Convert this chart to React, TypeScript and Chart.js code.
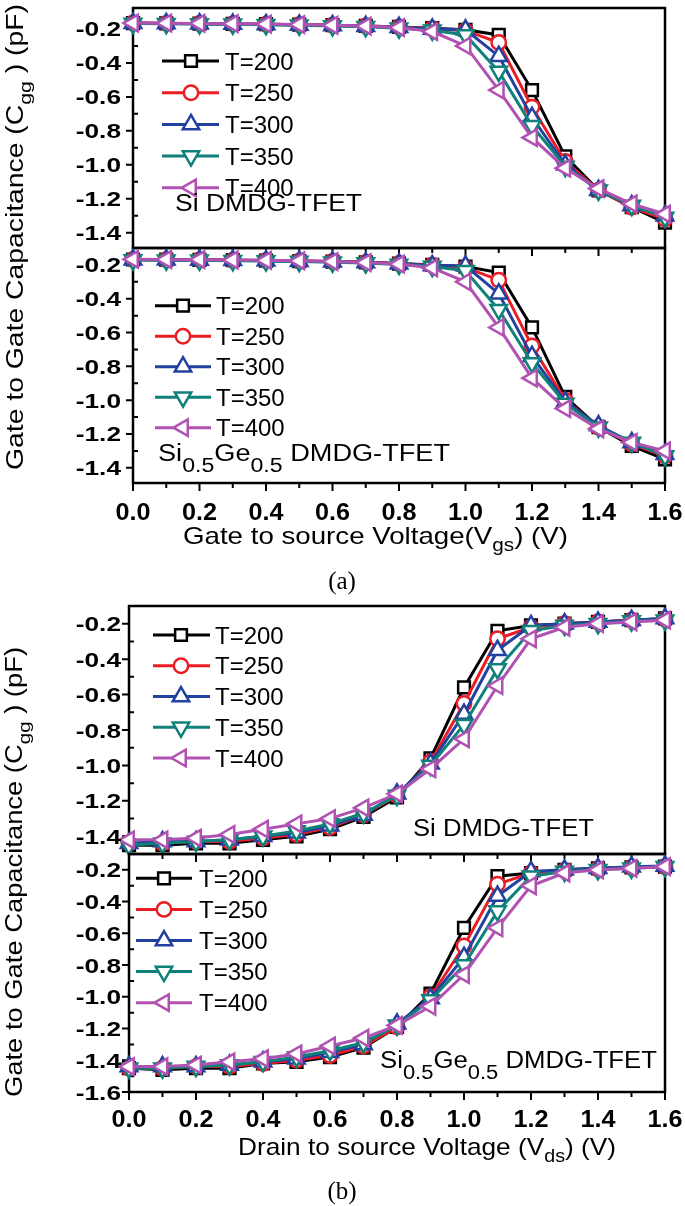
import React, { useEffect, useRef } from 'react';
import { Chart, registerables } from 'chart.js';
import { drawPoint } from 'chart.js/helpers';

Chart.register(...registerables);

const W = 685;
const H = 1206;

// Bias sweep (V), shared by every panel
const biasV = [0, 0.1, 0.2, 0.3, 0.4, 0.5, 0.6, 0.7, 0.8, 0.9, 1.0, 1.1, 1.2, 1.3, 1.4, 1.5, 1.6];
const tempLabels = ['T=200', 'T=250', 'T=300', 'T=350', 'T=400'];

// (a) Cgg (pF) vs Vgs — Si DMDG-TFET
const vgsSi200 = [-0.165, -0.167, -0.168, -0.170, -0.172, -0.175, -0.178, -0.182, -0.188, -0.195, -0.205, -0.235, -0.56, -0.95, -1.15, -1.25, -1.34];
const vgsSi250 = [-0.165, -0.167, -0.168, -0.170, -0.172, -0.175, -0.178, -0.182, -0.188, -0.198, -0.210, -0.28, -0.66, -0.98, -1.15, -1.25, -1.32];
const vgsSi300 = [-0.166, -0.167, -0.169, -0.171, -0.173, -0.176, -0.179, -0.184, -0.190, -0.200, -0.205, -0.36, -0.72, -1.00, -1.15, -1.24, -1.30];
const vgsSi350 = [-0.168, -0.169, -0.170, -0.172, -0.175, -0.178, -0.182, -0.187, -0.195, -0.208, -0.235, -0.45, -0.77, -1.01, -1.15, -1.24, -1.31];
const vgsSi400 = [-0.165, -0.166, -0.167, -0.169, -0.171, -0.174, -0.178, -0.183, -0.192, -0.215, -0.30, -0.56, -0.84, -1.02, -1.14, -1.23, -1.29];

// (a) Cgg (pF) vs Vgs — Si0.5Ge0.5 DMDG-TFET
const vgsSiGe200 = [-0.168, -0.169, -0.170, -0.172, -0.174, -0.177, -0.180, -0.185, -0.192, -0.200, -0.210, -0.245, -0.57, -0.98, -1.16, -1.27, -1.35];
const vgsSiGe250 = [-0.168, -0.169, -0.170, -0.172, -0.174, -0.177, -0.180, -0.185, -0.192, -0.202, -0.215, -0.29, -0.68, -1.00, -1.16, -1.26, -1.33];
const vgsSiGe300 = [-0.169, -0.170, -0.171, -0.173, -0.175, -0.178, -0.181, -0.186, -0.193, -0.204, -0.205, -0.37, -0.74, -1.01, -1.15, -1.25, -1.32];
const vgsSiGe350 = [-0.171, -0.172, -0.173, -0.175, -0.177, -0.180, -0.184, -0.189, -0.197, -0.210, -0.235, -0.465, -0.78, -1.02, -1.16, -1.25, -1.33];
const vgsSiGe400 = [-0.167, -0.168, -0.169, -0.171, -0.173, -0.176, -0.180, -0.186, -0.195, -0.218, -0.30, -0.57, -0.87, -1.05, -1.17, -1.25, -1.30];

// (b) Cgg (pF) vs Vds — Si DMDG-TFET
const vdsSi200 = [-1.45, -1.45, -1.44, -1.44, -1.42, -1.40, -1.36, -1.29, -1.18, -0.96, -0.56, -0.24, -0.21, -0.20, -0.19, -0.18, -0.17];
const vdsSi250 = [-1.44, -1.44, -1.43, -1.43, -1.41, -1.39, -1.35, -1.28, -1.17, -0.98, -0.65, -0.285, -0.22, -0.20, -0.19, -0.18, -0.175];
const vdsSi300 = [-1.44, -1.43, -1.43, -1.42, -1.40, -1.38, -1.34, -1.28, -1.16, -0.99, -0.71, -0.35, -0.21, -0.20, -0.19, -0.18, -0.17];
const vdsSi350 = [-1.45, -1.44, -1.43, -1.42, -1.40, -1.37, -1.33, -1.27, -1.17, -1.00, -0.77, -0.455, -0.24, -0.21, -0.20, -0.185, -0.18];
const vdsSi400 = [-1.42, -1.42, -1.41, -1.39, -1.36, -1.33, -1.30, -1.24, -1.16, -1.02, -0.85, -0.55, -0.285, -0.22, -0.20, -0.19, -0.18];

// (b) Cgg (pF) vs Vds — Si0.5Ge0.5 DMDG-TFET
const vdsSiGe200 = [-1.45, -1.46, -1.45, -1.45, -1.42, -1.41, -1.38, -1.32, -1.19, -0.98, -0.565, -0.24, -0.22, -0.20, -0.19, -0.185, -0.18];
const vdsSiGe250 = [-1.45, -1.45, -1.44, -1.44, -1.42, -1.40, -1.37, -1.31, -1.19, -1.00, -0.68, -0.29, -0.22, -0.205, -0.195, -0.185, -0.18];
const vdsSiGe300 = [-1.44, -1.44, -1.44, -1.43, -1.41, -1.39, -1.35, -1.30, -1.17, -1.01, -0.75, -0.365, -0.21, -0.20, -0.19, -0.18, -0.175];
const vdsSiGe350 = [-1.45, -1.45, -1.44, -1.43, -1.41, -1.38, -1.34, -1.29, -1.18, -1.02, -0.80, -0.46, -0.24, -0.21, -0.20, -0.19, -0.18];
const vdsSiGe400 = [-1.44, -1.44, -1.43, -1.41, -1.39, -1.36, -1.31, -1.26, -1.18, -1.06, -0.86, -0.565, -0.30, -0.22, -0.20, -0.19, -0.18];

// Axis tick labels
const xTickVals = [0, 0.2, 0.4, 0.6, 0.8, 1.0, 1.2, 1.4, 1.6];
const yTickVals = [-0.2, -0.4, -0.6, -0.8, -1.0, -1.2, -1.4];
const yTickValsDeep = [-0.2, -0.4, -0.6, -0.8, -1.0, -1.2, -1.4, -1.6];

const SANS = '"Liberation Sans", Arial, Helvetica, sans-serif';
const SERIF = '"Liberation Serif", "Times New Roman", serif';

const seriesStyle = [
  { color: '#000000', pointStyle: 'rect', rotation: 0, radius: 8.3 },
  { color: '#ec1c24', pointStyle: 'circle', rotation: 0, radius: 7.2 },
  { color: '#2341a0', pointStyle: 'triangle', rotation: 0, radius: 9.5 },
  { color: '#10807a', pointStyle: 'triangle', rotation: 180, radius: 9.5 },
  { color: '#b152b3', pointStyle: 'triangle', rotation: 270, radius: 9.5 },
];

type Run = { text: string; sub?: boolean };

interface TextOpts {
  size: number;
  family: string;
  bold?: boolean;
  align: 'left' | 'center' | 'right';
  width?: number;
  sx?: number;
  rotate?: boolean;
  subScale?: number;
  subShift?: number;
}

// Draws a run of text (with optional subscripts); y is the middle of the capitals.
function drawRuns(ctx: CanvasRenderingContext2D, runs: Run[], x: number, y: number, o: TextOpts) {
  const subScale = o.subScale ?? 0.75;
  const font = (sub?: boolean) =>
    `${o.bold ? 'bold ' : ''}${sub ? (o.size * subScale).toFixed(1) : o.size}px ${o.family}`;
  let natural = 0;
  const widths = runs.map((r) => {
    ctx.font = font(r.sub);
    const w = ctx.measureText(r.text).width;
    natural += w;
    return w;
  });
  const sx = o.width ? o.width / natural : o.sx ?? 1;
  ctx.save();
  ctx.translate(x, y);
  if (o.rotate) ctx.rotate(-Math.PI / 2);
  ctx.scale(sx, 1);
  let cx = o.align === 'left' ? 0 : o.align === 'center' ? -natural / 2 : -natural;
  ctx.textAlign = 'left';
  ctx.textBaseline = 'alphabetic';
  ctx.fillStyle = '#000';
  const base = o.size * 0.358;
  runs.forEach((r, i) => {
    ctx.font = font(r.sub);
    ctx.fillText(r.text, cx, base + (r.sub ? o.size * (o.subShift ?? 0.32) : 0));
    cx += widths[i];
  });
  ctx.restore();
}

interface Panel {
  key: string;
  series: number[][];
  area: { l: number; r: number; t: number; b: number };
  yMin: number;
  yMax: number;
  yTicks: number[];
  legend: { x0: number; x1: number; mx: number; tx: number; y0: number; dy: number };
  tag: { runs: Run[]; x: number; y: number; width: number };
  xAxis?: { labelY: number; title: Run[]; titleX: number; titleY: number; titleW: number };
  yTitle?: { x: number; y: number; len: number };
  caption?: { text: string; x: number; y: number };
}

const siTag: Run[] = [{ text: 'Si DMDG-TFET' }];
const siGeTag: Run[] = [
  { text: 'Si' },
  { text: '0.5', sub: true },
  { text: 'Ge' },
  { text: '0.5', sub: true },
  { text: ' DMDG-TFET' },
];
const yTitleRuns: Run[] = [
  { text: 'Gate to Gate Capacitance (C' },
  { text: 'gg', sub: true },
  { text: ' ) (pF)' },
];

const panels: Panel[] = [
  {
    key: 'a-si',
    series: [vgsSi200, vgsSi250, vgsSi300, vgsSi350, vgsSi400],
    area: { l: 133, r: 665, t: 8, b: 248 },
    yMin: -1.49,
    yMax: -0.1,
    yTicks: yTickVals,
    legend: { x0: 162, x1: 219, mx: 191, tx: 225, y0: 61, dy: 31.7 },
    tag: { runs: siTag, x: 175, y: 203, width: 187 },
  },
  {
    key: 'a-sige',
    series: [vgsSiGe200, vgsSiGe250, vgsSiGe300, vgsSiGe350, vgsSiGe400],
    area: { l: 133, r: 665, t: 248, b: 483 },
    yMin: -1.49,
    yMax: -0.1,
    yTicks: yTickVals,
    legend: { x0: 155, x1: 211, mx: 183, tx: 216, y0: 305.7, dy: 30.5 },
    tag: { runs: siGeTag, x: 158, y: 453, width: 292 },
    xAxis: {
      labelY: 511.5,
      title: [{ text: 'Gate to source Voltage(V' }, { text: 'gs', sub: true }, { text: ') (V)' }],
      titleX: 375.5,
      titleY: 535,
      titleW: 385,
    },
    yTitle: { x: 15, y: 237, len: 466 },
    caption: { text: '(a)', x: 342, y: 580 },
  },
  {
    key: 'b-si',
    series: [vdsSi200, vdsSi250, vdsSi300, vdsSi350, vdsSi400],
    area: { l: 129, r: 665, t: 606, b: 854 },
    yMin: -1.5,
    yMax: -0.1,
    yTicks: yTickVals,
    legend: { x0: 153, x1: 210, mx: 181, tx: 215, y0: 635, dy: 30.75 },
    tag: { runs: siTag, x: 413, y: 828, width: 181 },
  },
  {
    key: 'b-sige',
    series: [vdsSiGe200, vdsSiGe250, vdsSiGe300, vdsSiGe350, vdsSiGe400],
    area: { l: 129, r: 665, t: 854, b: 1092 },
    yMin: -1.6,
    yMax: -0.1,
    yTicks: yTickValsDeep,
    legend: { x0: 136, x1: 192, mx: 164, tx: 199, y0: 878.3, dy: 31.1 },
    tag: { runs: siGeTag, x: 380, y: 1060, width: 277 },
    xAxis: {
      labelY: 1118,
      title: [{ text: 'Drain to source Voltage (V' }, { text: 'ds', sub: true }, { text: ') (V)' }],
      titleX: 427,
      titleY: 1146,
      titleW: 378,
    },
    yTitle: { x: 14, y: 872, len: 450 },
    caption: { text: '(b)', x: 342, y: 1190 },
  },
];

// Frame, ticks, legend and text for one panel
function decorPlugin(p: Panel) {
  return {
    id: 'panelDecor',
    beforeDatasetsDraw(chart: any) {
      const ctx: CanvasRenderingContext2D = chart.ctx;
      const xs = chart.scales.x;
      const ys = chart.scales.y;
      const { l, r, t, b } = p.area;
      ctx.save();
      ctx.strokeStyle = '#000';
      ctx.lineWidth = 2.5;
      ctx.strokeRect(l, t, r - l, b - t);
      ctx.lineWidth = 2;
      ctx.beginPath();
      for (let i = 0; i <= 16; i++) {
        const x = xs.getPixelForValue(i / 10);
        ctx.moveTo(x, b);
        ctx.lineTo(x, b + (i % 2 === 0 ? 8 : 5));
      }
      p.yTicks.forEach((v) => {
        const y = ys.getPixelForValue(v);
        ctx.moveTo(l - 7, y);
        ctx.lineTo(l, y);
        const m = v - 0.1;
        if (m > p.yMin + 0.01) {
          const ym = ys.getPixelForValue(m);
          ctx.moveTo(l, ym);
          ctx.lineTo(l + 5, ym);
        }
      });
      ctx.stroke();
      ctx.restore();
    },
    afterDatasetsDraw(chart: any) {
      const ctx: CanvasRenderingContext2D = chart.ctx;
      const xs = chart.scales.x;
      const ys = chart.scales.y;
      ctx.save();

      // legend: line with marker through it
      const lg = p.legend;
      seriesStyle.forEach((s, i) => {
        const y = lg.y0 + i * lg.dy;
        ctx.strokeStyle = s.color;
        ctx.lineWidth = 3;
        ctx.beginPath();
        ctx.moveTo(lg.x0, y);
        ctx.lineTo(lg.x1, y);
        ctx.stroke();
        ctx.fillStyle = '#ffffff';
        ctx.lineWidth = 2.5;
        drawPoint(ctx, { pointStyle: s.pointStyle as any, rotation: s.rotation, radius: s.radius, borderWidth: 2.5 }, lg.mx, y);
        drawRuns(ctx, [{ text: tempLabels[i] }], lg.tx, y, { size: 24, family: SANS, align: 'left' });
      });

      // device tag
      drawRuns(ctx, p.tag.runs, p.tag.x, p.tag.y, {
        size: 23,
        family: SANS,
        align: 'left',
        width: p.tag.width,
        subScale: 0.85,
        subShift: 0.45,
      });

      // y tick labels
      p.yTicks.forEach((v) => {
        drawRuns(ctx, [{ text: v.toFixed(1) }], 121, ys.getPixelForValue(v), {
          size: 21,
          family: SANS,
          bold: true,
          align: 'right',
          sx: 1.25,
        });
      });

      if (p.xAxis) {
        const xa = p.xAxis;
        xTickVals.forEach((v) => {
          drawRuns(ctx, [{ text: v.toFixed(1) }], xs.getPixelForValue(v), xa.labelY, {
            size: 24,
            family: SANS,
            bold: true,
            align: 'center',
            sx: 1.05,
          });
        });
        drawRuns(ctx, xa.title, xa.titleX, xa.titleY, {
          size: 24,
          family: SANS,
          align: 'center',
          width: xa.titleW,
        });
      }
      if (p.yTitle) {
        drawRuns(ctx, yTitleRuns, p.yTitle.x, p.yTitle.y, {
          size: 23,
          family: SANS,
          align: 'center',
          width: p.yTitle.len,
          rotate: true,
        });
      }
      if (p.caption) {
        drawRuns(ctx, [{ text: p.caption.text }], p.caption.x, p.caption.y, {
          size: 25,
          family: SERIF,
          align: 'center',
        });
      }
      ctx.restore();
    },
  };
}

function PanelChart({ panel }: { panel: Panel }) {
  const ref = useRef<HTMLCanvasElement>(null);
  useEffect(() => {
    const a = panel.area;
    const chart = new Chart(ref.current as HTMLCanvasElement, {
      type: 'line',
      data: {
        datasets: panel.series.map((vals, i) => {
          const s = seriesStyle[i];
          return {
            label: tempLabels[i],
            data: biasV.map((x, j) => ({ x, y: vals[j] })),
            borderColor: s.color,
            backgroundColor: '#ffffff',
            borderWidth: 3,
            pointStyle: s.pointStyle as any,
            pointRotation: s.rotation,
            pointRadius: s.radius,
            pointBorderWidth: 2.5,
            pointBackgroundColor: '#ffffff',
            pointBorderColor: s.color,
            order: 4 - i,
            clip: false as any,
            tension: 0,
          };
        }),
      },
      options: {
        responsive: false,
        animation: false,
        devicePixelRatio: 1,
        events: [],
        layout: { padding: { left: a.l, right: W - a.r, top: a.t, bottom: H - a.b } },
        scales: {
          x: { type: 'linear', min: 0, max: 1.6, display: false },
          y: { type: 'linear', min: panel.yMin, max: panel.yMax, display: false },
        },
        plugins: { legend: { display: false }, tooltip: { enabled: false } },
      },
      plugins: [decorPlugin(panel)],
    });
    return () => chart.destroy();
  }, [panel]);
  return (
    <canvas
      ref={ref}
      width={W}
      height={H}
      style={{ position: 'absolute', left: 0, top: 0, width: W, height: H }}
    />
  );
}

export default function App() {
  return (
    <div style={{ position: 'absolute', left: 0, top: 0, width: W, height: H, background: '#ffffff' }}>
      {panels.map((p) => (
        <PanelChart key={p.key} panel={p} />
      ))}
    </div>
  );
}
